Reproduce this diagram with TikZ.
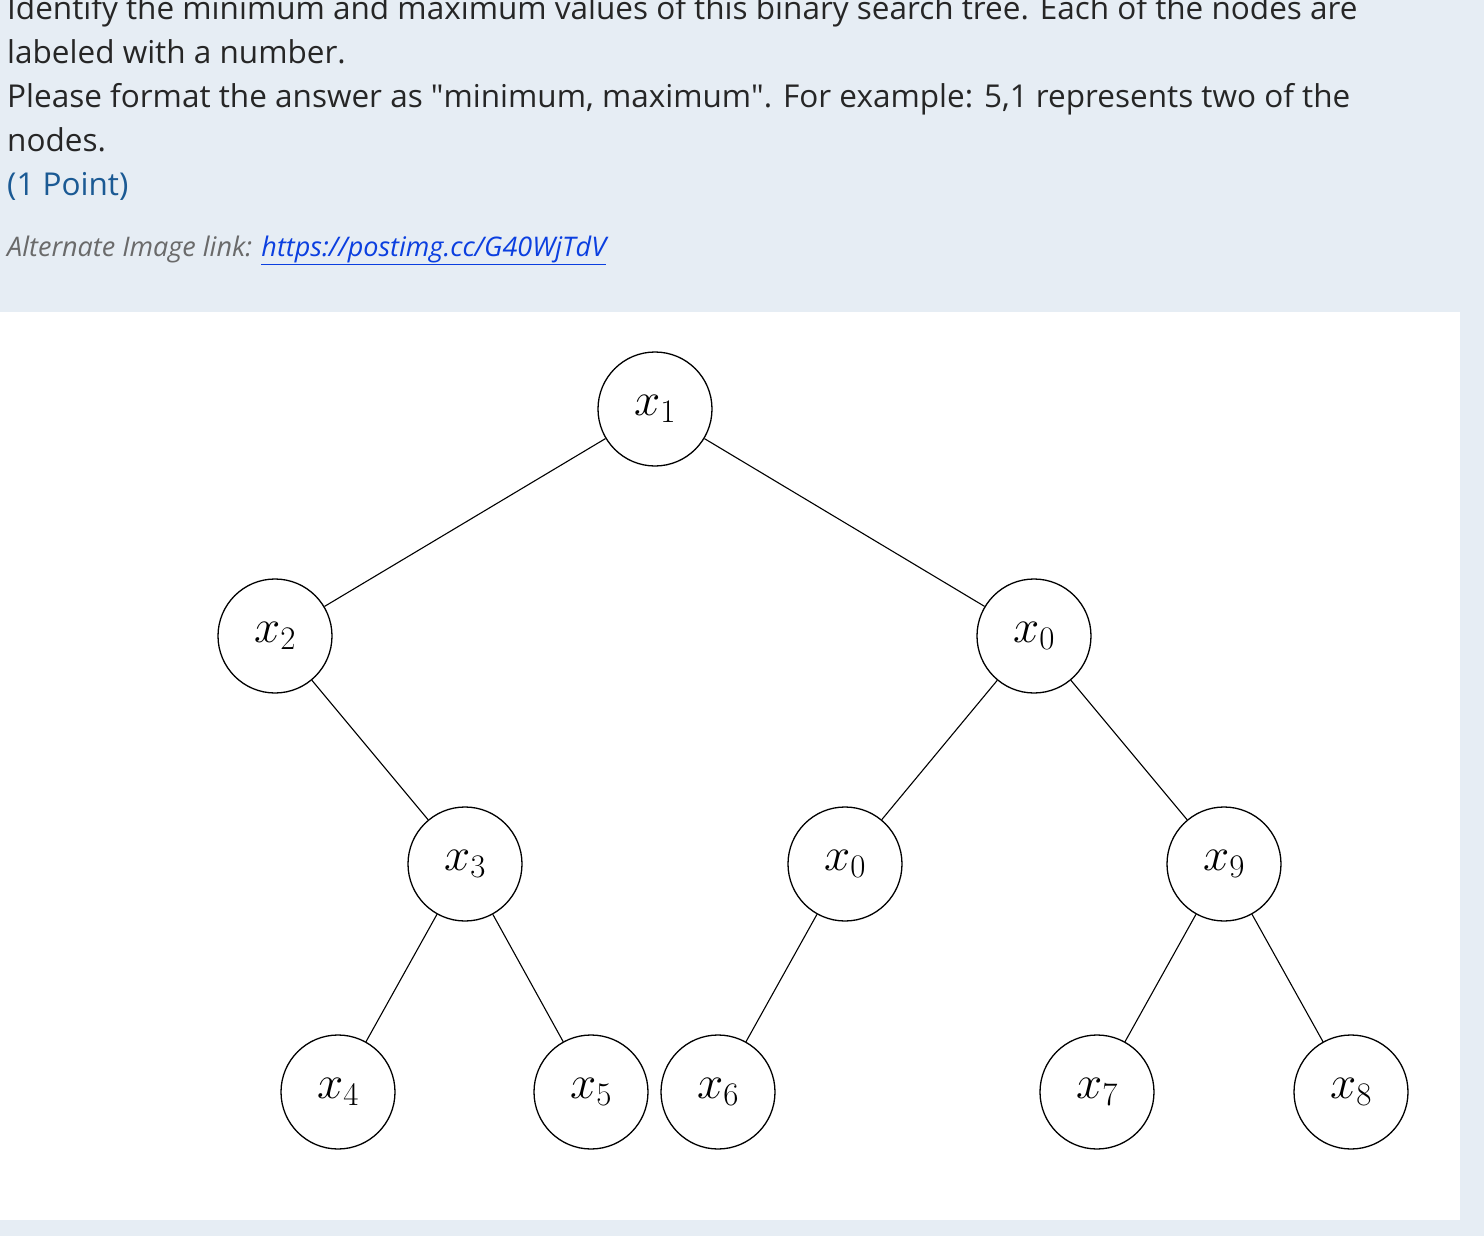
\documentclass[tikz,border=0pt]{standalone}
\usepackage{fix-cm}
\usepackage{fontspec}
\setmainfont{Open Sans}
\newfontfamily\plainq{Open Sans}
\definecolor{bgc}{HTML}{E6EDF4}
\definecolor{ptc}{HTML}{1B5A94}
\definecolor{alt}{HTML}{6A6A6A}
\definecolor{lnk}{HTML}{0B3FE0}
\begin{document}
\begin{tikzpicture}[x=1pt,y=-1pt,
  tn/.style={circle,draw,line width=1.3pt,minimum size=114pt,inner sep=0pt,font=\fontsize{47}{47}\selectfont},
  qt/.style={anchor=base west,inner sep=0pt,font=\fontsize{31.5}{31.5}\selectfont,text=black!85}]
\useasboundingbox (0,0) rectangle (1484,1236);
\fill[bgc] (0,0) rectangle (1484,1236);
\fill[white] (0,312) rectangle (1460,1220);
\node[qt] (l1) at (7,20) {Identify the minimum and maximum values of this binary search tree. Each of the nodes are};
\node[qt] (l2) at (7,64) {labeled with a number.};
\node[qt] (l3) at (7,108) {Please format the answer as {\plainq"}minimum, maximum{\plainq"}. For example: 5,1 represents two of the};
\node[qt] (l4) at (7,152) {nodes.};
\node[qt,text=ptc] (l5) at (7,196) {(1 Point)};
\node[qt,font=\fontsize{27}{27}\selectfont\itshape,text=alt] (l6) at (7,256) {Alternate Image link: \textcolor{lnk}{\underline{https://postimg.cc/G40WjTdV}}};
\node[tn] (a1) at (655,409) {$x_1$};
\node[tn] (a2) at (275,636) {$x_2$};
\node[tn] (a0) at (1034,636) {$x_0$};
\node[tn] (a3) at (465,864) {$x_3$};
\node[tn] (b0) at (845,864) {$x_0$};
\node[tn] (a9) at (1224,864) {$x_9$};
\node[tn] (a4) at (338,1092) {$x_4$};
\node[tn] (a5) at (591,1092) {$x_5$};
\node[tn] (a6) at (718,1092) {$x_6$};
\node[tn] (a7) at (1097,1092) {$x_7$};
\node[tn] (a8) at (1351,1092) {$x_8$};
\begin{scope}[line width=1.1pt]
\draw (a1)--(a2); \draw (a1)--(a0);
\draw (a2)--(a3); \draw (a0)--(b0); \draw (a0)--(a9);
\draw (a3)--(a4); \draw (a3)--(a5); \draw (b0)--(a6);
\draw (a9)--(a7); \draw (a9)--(a8);
\end{scope}
\end{tikzpicture}
\end{document}
